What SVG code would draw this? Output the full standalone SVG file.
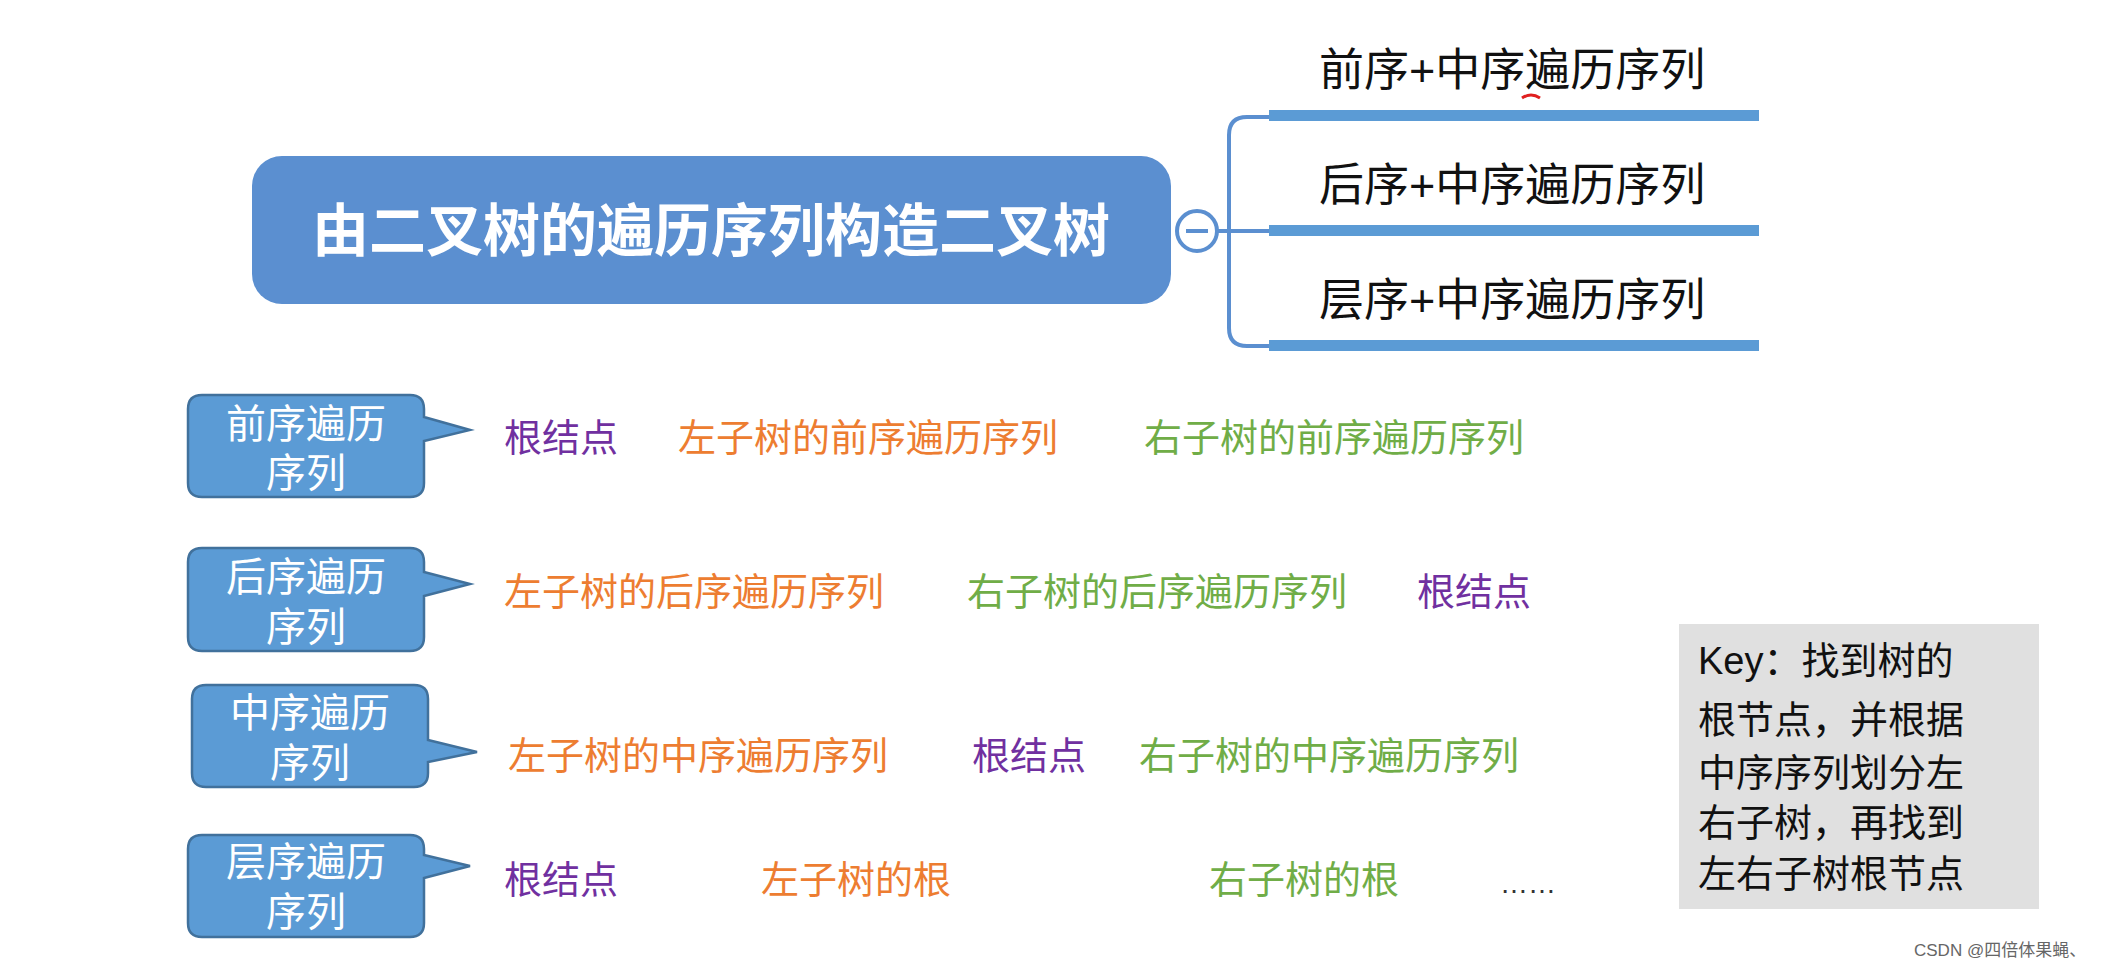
<svg xmlns="http://www.w3.org/2000/svg" width="2106" height="970" viewBox="0 0 2106 970">
<style>
text{font-family:"Liberation Sans","Noto Sans CJK SC",sans-serif}
.call{fill:#5b9bd5;stroke:#41719c;stroke-width:2.5}
.ct{fill:#fff;font-size:40px;text-anchor:middle}
.bar{fill:#5b9bd5}
.br{font-size:45px;fill:#111}
.r{font-size:38px}
.p{fill:#7030a0}.o{fill:#ed7d31}.g{fill:#70ad47}
.k{font-size:38px;fill:#111}
</style>
<rect width="2106" height="970" fill="#fff"/>
<g id="main">
<rect x="252" y="156" width="919" height="148" rx="30" fill="#5b8fd0"/>
<text x="711" y="251" font-size="57" font-weight="bold" fill="#fff" text-anchor="middle">由二叉树的遍历序列构造二叉树</text>
</g>
<g id="connectors" fill="none" stroke="#5b8fd0" stroke-width="4">
<line x1="1218" y1="231" x2="1229" y2="231"/>
<path d="M1269 117 H1247 Q1229 117 1229 135 V328 Q1229 346 1247 346 H1269"/>
<line x1="1229" y1="231" x2="1269" y2="231"/>
</g>
<g id="collapse">
<circle cx="1197" cy="231" r="20" fill="#fff" stroke="#5b8fd0" stroke-width="4"/>
<line x1="1186" y1="231" x2="1208" y2="231" stroke="#5b8fd0" stroke-width="4"/>
</g>
<g id="b1"><text class="br" x="1319" y="86">前序+中序遍历序列</text><rect class="bar" x="1269" y="110" width="490" height="11"/>
<path d="M1522 98 q9 -6 18 0" fill="none" stroke="#e02020" stroke-width="3"/></g>
<g id="b2"><text class="br" x="1319" y="201">后序+中序遍历序列</text><rect class="bar" x="1269" y="225" width="490" height="11"/></g>
<g id="b3"><text class="br" x="1319" y="316">层序+中序遍历序列</text><rect class="bar" x="1269" y="340" width="490" height="11"/></g>
<g id="c1"><path class="call" d="M202 395 H410 Q424 395 424 409 V417 L470 430 L424 441 V483 Q424 497 410 497 H202 Q188 497 188 483 V409 Q188 395 202 395 Z"/>
<text class="ct" x="306" y="438">前序遍历</text><text class="ct" x="306" y="487">序列</text></g>
<g id="c2"><path class="call" d="M202 548 H410 Q424 548 424 562 V572 L470 584 L424 596 V637 Q424 651 410 651 H202 Q188 651 188 637 V562 Q188 548 202 548 Z"/>
<text class="ct" x="306" y="591">后序遍历</text><text class="ct" x="306" y="641">序列</text></g>
<g id="c3"><path class="call" d="M206 685 H414 Q428 685 428 699 V740 L477 752 L428 762 V773 Q428 787 414 787 H206 Q192 787 192 773 V699 Q192 685 206 685 Z"/>
<text class="ct" x="310" y="727">中序遍历</text><text class="ct" x="310" y="777">序列</text></g>
<g id="c4"><path class="call" d="M202 835 H410 Q424 835 424 849 V855 L470 866 L424 878 V923 Q424 937 410 937 H202 Q188 937 188 923 V849 Q188 835 202 835 Z"/>
<text class="ct" x="306" y="876">层序遍历</text><text class="ct" x="306" y="926">序列</text></g>
<g id="row1" class="r"><text class="p" x="504" y="451">根结点</text><text class="o" x="678" y="451">左子树的前序遍历序列</text><text class="g" x="1144" y="451">右子树的前序遍历序列</text></g>
<g id="row2" class="r"><text class="o" x="504" y="605">左子树的后序遍历序列</text><text class="g" x="967" y="605">右子树的后序遍历序列</text><text class="p" x="1417" y="605">根结点</text></g>
<g id="row3" class="r"><text class="o" x="508" y="769">左子树的中序遍历序列</text><text class="p" x="972" y="769">根结点</text><text class="g" x="1139" y="769">右子树的中序遍历序列</text></g>
<g id="row4" class="r"><text class="p" x="504" y="893">根结点</text><text class="o" x="761" y="893">左子树的根</text><text class="g" x="1209" y="893">右子树的根</text><text x="1500" y="893" font-size="28" fill="#333">……</text></g>
<g id="key">
<rect x="1679" y="624" width="360" height="285" fill="#e0e0e0"/>
<text class="k" x="1698" y="674">Key：找到树的</text>
<text class="k" x="1698" y="733">根节点，并根据</text>
<text class="k" x="1698" y="786">中序序列划分左</text>
<text class="k" x="1698" y="836">右子树，再找到</text>
<text class="k" x="1698" y="887">左右子树根节点</text>
</g>
<text x="1914" y="956" font-size="17" fill="#666">CSDN @四倍体果蝇、</text>
</svg>
